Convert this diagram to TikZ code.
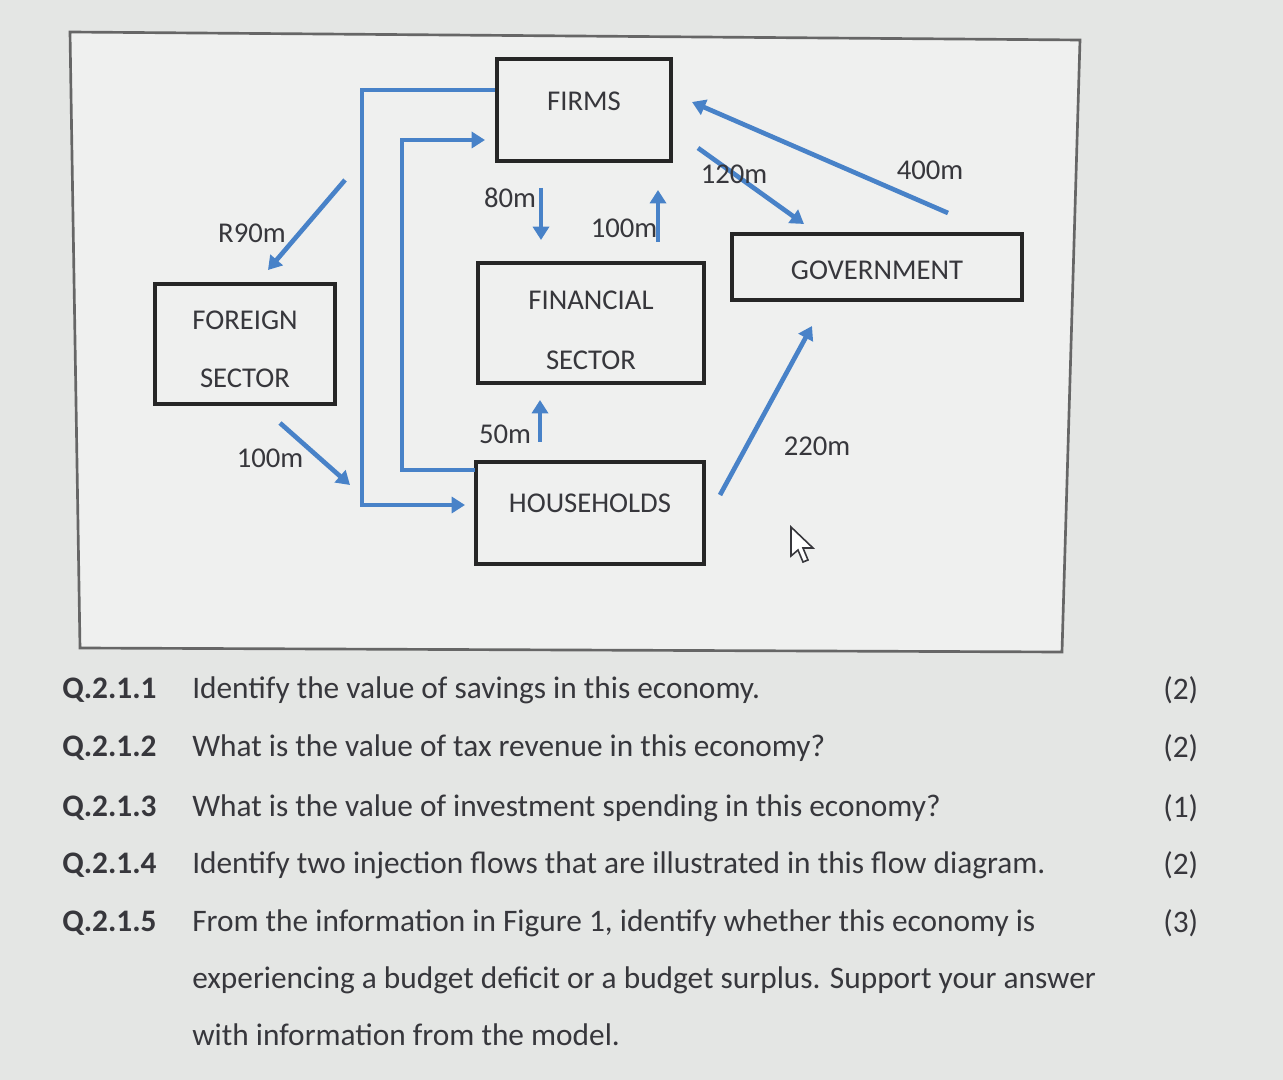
\documentclass[tikz,border=0pt]{standalone}
\usepackage{fontspec}
\setmainfont{Carlito}
\usetikzlibrary{arrows.meta}
\definecolor{flow}{RGB}{72,130,200}
\definecolor{bg}{RGB}{228,230,228}
\definecolor{ink}{RGB}{55,55,60}
\tikzset{
  box/.style={draw=black!85,line width=3pt},
  flowarr/.style={draw=flow,line width=3.5pt,-{Triangle[length=10pt,width=12pt]}},
  lab/.style={text=ink,font=\fontsize{21.5}{24}\selectfont,inner sep=0},
  qn/.style={text=ink,font=\fontsize{23.5}{26}\selectfont,anchor=west,inner sep=0},
}
\begin{document}
\begin{tikzpicture}[x=0.75pt,y=-0.75pt]
\fill[bg] (0,0) rectangle (1283,1080);
\useasboundingbox (0,0) rectangle (1283,1080);
\draw[draw=black!60,line width=2pt,fill=white!40!bg] (70,32) -- (1080,40) -- (1062,652) -- (80,648) -- cycle;
% boxes
\node[box,minimum width=130pt,minimum height=76pt] (firms) at (584,110) {};
\node[lab] at (584,101) {FIRMS};
\node[box,minimum width=170pt,minimum height=90pt] (fin) at (591,323) {};
\node[lab] at (591,300) {FINANCIAL};
\node[lab] at (591,360) {SECTOR};
\node[box,minimum width=218pt,minimum height=50pt] (gov) at (877,267) {};
\node[lab] at (877,270) {GOVERNMENT};
\node[box,minimum width=135pt,minimum height=90pt] (for) at (245,344) {};
\node[lab] at (245,320) {FOREIGN};
\node[lab] at (245,378) {SECTOR};
\node[box,minimum width=171pt,minimum height=76pt] (hh) at (590,513) {};
\node[lab] at (590,503) {HOUSEHOLDS};
% brackets
\coordinate (b1) at (495,90); \coordinate (b2) at (465,505);
\draw[flowarr] (b1) -- (362,90) -- (362,505) -- (b2);
\coordinate (c1) at (475,470); \coordinate (c2) at (485,140);
\draw[flowarr] (c1) -- (402,470) -- (402,140) -- (c2);
% diagonal flows
\coordinate (r1) at (345,180); \coordinate (r2) at (268,270);
\draw[flowarr] (r1) -- (r2);
\node[lab] at (252,233) {R90m};
\coordinate (f1) at (280,423); \coordinate (f2) at (350,485);
\draw[flowarr] (f1) -- (f2);
\node[lab] at (270,458) {100m};
\coordinate (s1) at (541,188); \coordinate (s2) at (541,240);
\draw[flowarr] (s1) -- (s2);
\node[lab] at (510,198) {80m};
\coordinate (i1) at (658,242); \coordinate (i2) at (658,190);
\draw[flowarr] (i1) -- (i2);
\node[lab] at (624,228) {100m};
\coordinate (h1) at (540,442); \coordinate (h2) at (540,400);
\draw[flowarr] (h1) -- (h2);
\node[lab] at (505,434) {50m};
\coordinate (t1) at (698,148); \coordinate (t2) at (804,224);
\draw[flowarr] (t1) -- (t2);
\node[lab] at (734,174) {120m};
\coordinate (g1) at (948,213); \coordinate (g2) at (692,102);
\draw[flowarr] (g1) -- (g2);
\node[lab] at (930,170) {400m};
\coordinate (x1) at (720,495); \coordinate (x2) at (812,326);
\draw[flowarr] (x1) -- (x2);
\node[lab] at (817,446) {220m};
% cursor
\draw[ink,line width=1.2pt,fill=white] (791,527) -- (791,556) -- (798,550) -- (803,562) -- (808,560) -- (803,548) -- (813,548) -- cycle;
% questions
\foreach \y/\q/\t/\m in {690/Q.2.1.1/{Identify the value of savings in this economy.}/(2),
  748/Q.2.1.2/{What is the value of tax revenue in this economy?}/(2),
  808/Q.2.1.3/{What is the value of investment spending in this economy?}/(1),
  865/Q.2.1.4/{Identify two injection flows that are illustrated in this flow diagram.}/(2),
  923/Q.2.1.5/{From the information in Figure 1, identify whether this economy is}/(3)}{
  \node[qn,font=\bfseries\fontsize{23.5}{26}\selectfont] at (62,\y) {\q};
  \node[qn] at (192,\y) {\t};
  \node[qn] at (1163,\y) {\m};
}
\node[qn] at (192,980) {experiencing a budget deficit or a budget surplus. Support your answer};
\node[qn] at (192,1035) {with information from the model.};
\end{tikzpicture}
\end{document}
